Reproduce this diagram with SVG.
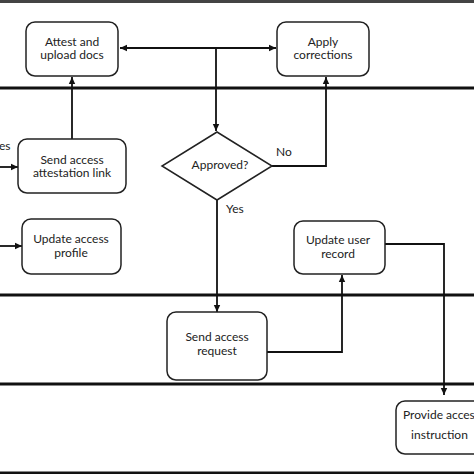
<svg xmlns="http://www.w3.org/2000/svg" width="474" height="474" viewBox="0 0 474 474">
<defs>
<marker id="ah" markerWidth="8" markerHeight="8" refX="7" refY="4" orient="auto-start-reverse" markerUnits="userSpaceOnUse">
<path d="M0,0.8 L7,4 L0,7.2 Z" fill="#111"/>
</marker>
<style>
.lane{stroke:#111;stroke-width:3;fill:none}
.box{fill:#fff;stroke:#222;stroke-width:1.5}
.c{fill:none;stroke:#111;stroke-width:1.8}
text{font-family:Lato,"Liberation Sans",sans-serif;font-size:12px;fill:#222}
.m{text-anchor:middle}
</style>
</defs>
<rect width="474" height="474" fill="#fff"/>
<g id="lanes">
<rect x="0" y="0" width="474" height="3" fill="#444"/>
<line class="lane" x1="0" y1="88" x2="474" y2="88"/>
<line class="lane" x1="0" y1="295" x2="474" y2="295"/>
<line class="lane" x1="0" y1="384" x2="474" y2="384"/>
<rect x="0" y="471.5" width="474" height="2.5" fill="#111"/>
</g>
<g id="connectors">
<line class="c" x1="120" y1="48" x2="276" y2="48" marker-start="url(#ah)" marker-end="url(#ah)"/>
<line class="c" x1="216" y1="48" x2="216" y2="131" marker-end="url(#ah)"/>
<line class="c" x1="72" y1="139" x2="72" y2="77" marker-end="url(#ah)"/>
<line class="c" x1="0" y1="167" x2="18" y2="167" marker-end="url(#ah)"/>
<line class="c" x1="0" y1="246" x2="22" y2="246" marker-end="url(#ah)"/>
<polyline class="c" points="272,166 326,166 326,77" marker-end="url(#ah)"/>
<line class="c" x1="217" y1="200" x2="217" y2="312" marker-end="url(#ah)"/>
<polyline class="c" points="267,352 342,352 342,275" marker-end="url(#ah)"/>
<polyline class="c" points="385,244 444,244 444,395" marker-end="url(#ah)"/>
<text x="-1" y="150">es</text>
<text x="276" y="156">No</text>
<text x="226" y="213">Yes</text>
</g>
<g id="attest">
<rect class="box" x="26" y="22" width="92" height="54" rx="9"/>
<text class="m" x="72" y="45.5">Attest and</text>
<text class="m" x="72" y="59">upload docs</text>
</g>
<g id="apply">
<rect class="box" x="277" y="22" width="92" height="54" rx="9"/>
<text class="m" x="323" y="45.5">Apply</text>
<text class="m" x="323" y="59">corrections</text>
</g>
<g id="sendlink">
<rect class="box" x="18" y="139" width="108" height="54" rx="9"/>
<text class="m" x="72" y="163.5">Send access</text>
<text class="m" x="72" y="177">attestation link</text>
</g>
<g id="approved">
<polygon class="box" points="217,132 272,166 217,200 162,166"/>
<text class="m" x="220" y="169">Approved?</text>
</g>
<g id="updprofile">
<rect class="box" x="22" y="219" width="99" height="55" rx="9"/>
<text class="m" x="71" y="243">Update access</text>
<text class="m" x="71" y="257">profile</text>
</g>
<g id="upduser">
<rect class="box" x="294" y="221" width="91" height="53" rx="9"/>
<text class="m" x="338" y="244">Update user</text>
<text class="m" x="338" y="258">record</text>
</g>
<g id="sendreq">
<rect class="box" x="167" y="312" width="100" height="68" rx="9"/>
<text class="m" x="217" y="341">Send access</text>
<text class="m" x="217" y="355">request</text>
</g>
<g id="provide">
<rect class="box" x="396" y="401" width="90" height="53" rx="9"/>
<text x="403" y="419">Provide access</text>
<text class="m" x="439.5" y="439">instruction</text>
</g>
</svg>
